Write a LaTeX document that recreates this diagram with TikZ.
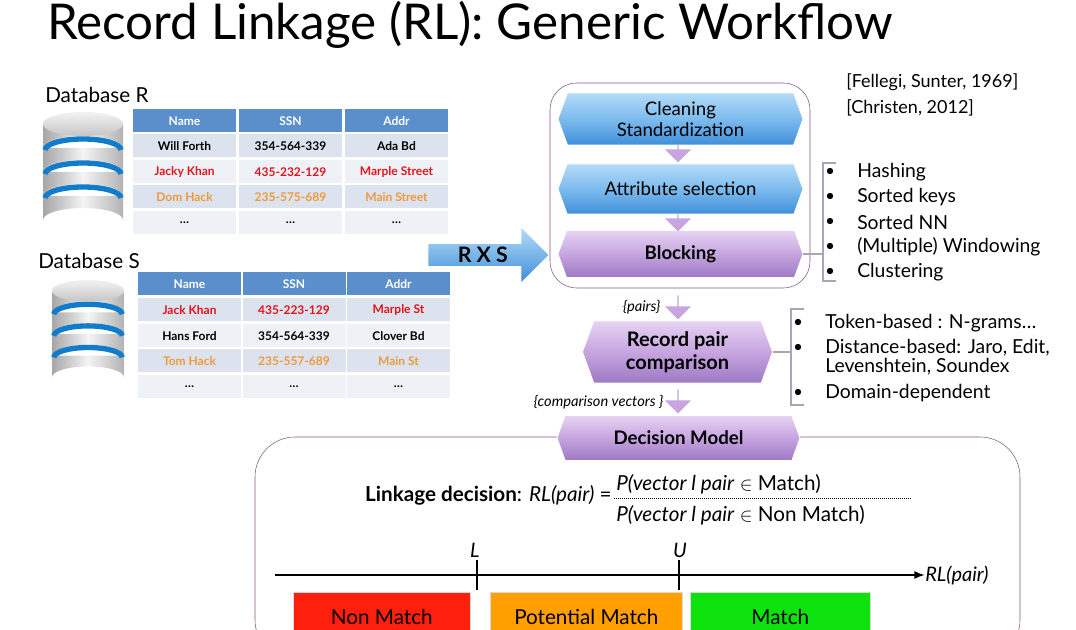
\documentclass[tikz,border=0pt]{standalone}
\usepackage{fontspec}
\setmainfont{Lato}
\usetikzlibrary{shapes.symbols,shapes.arrows,arrows.meta}
\definecolor{hdr}{HTML}{5B8FCB}
\definecolor{rowA}{HTML}{DCE3EE}
\definecolor{rowB}{HTML}{EEF1F6}
\definecolor{myred}{HTML}{E3141C}
\definecolor{myor}{HTML}{EE9A3A}
\definecolor{brk}{HTML}{A9A4B8}
\definecolor{blT}{HTML}{B4DBF7}
\definecolor{blM}{HTML}{7DBBEE}
\definecolor{blB}{HTML}{3F8FD9}
\definecolor{puT}{HTML}{E6D3F2}
\definecolor{puM}{HTML}{C6A5E0}
\definecolor{puB}{HTML}{9E78C4}
\newcommand\mydots{\ldots}
\begin{document}
\begin{tikzpicture}[x=0.75pt,y=-0.75pt,
 cell/.style={minimum width=103*0.75pt,minimum height=23*0.75pt,inner sep=0pt,font=\fontsize{9}{10}\selectfont\bfseries},
 hd/.style={cell,fill=hdr,text=white},
 hexb/.style={signal,signal to=east and west,signal pointer angle=140,inner sep=0pt,draw=white,line width=0.6pt,align=center},
 blue/.style={hexb,top color=blT,bottom color=blB,middle color=blM},
 purp/.style={hexb,top color=puT,bottom color=puB,middle color=puM},
 darr/.style={single arrow,fill=puM,minimum height=24*0.75pt,minimum width=26*0.75pt,single arrow head extend=4pt,shape border rotate=270,inner sep=0pt},
 li/.style={font=\fontsize{14.5}{16}\selectfont,anchor=west,inner sep=0pt},
 bul/.style={font=\fontsize{12}{12}\selectfont,inner sep=0pt},
 brkt/.style={draw=brk,line width=2.2pt}
]
\useasboundingbox (0,0) rectangle (1076,630);
\fill[white] (0,0) rectangle (1076,630);
\node[anchor=base west,inner sep=0pt,font=\fontsize{37}{40}\selectfont] (title) at (47,40) {Record Linkage (RL): Generic Workflow};

% database icons
\foreach \cx/\ty/\sc [count=\i] in {83/112/1, 88/280/0.9}{
 \begin{scope}[shift={(\cx,\ty)},scale=\sc]
  \foreach \k in {3,2,1,0}{
   \shade[left color=gray!70,right color=gray!60,middle color=gray!8] (-40,{12+\k*24}) -- (-40,{36+\k*24}) arc[start angle=180,end angle=360,x radius=40,y radius=12] -- (40,{12+\k*24}) -- cycle;
  }
  \foreach \k in {1,2,3}{
   \draw[line width=4pt,cyan!60!blue] (-38,{14+\k*24}) arc[start angle=180,end angle=360,x radius=38,y radius=11];
  }
  \shade[top color=gray!10,bottom color=gray!45] (0,12) ellipse[x radius=40,y radius=12];
 \end{scope}
}
\node[anchor=west,inner sep=0pt,font=\fontsize{15.5}{16}\selectfont] (dbr) at (45,95) {Database R};
\node[anchor=west,inner sep=0pt,font=\fontsize{15.5}{16}\selectfont] (dbs) at (38,261) {Database S};

% table R
\foreach \t/\c [count=\j] in {Name/0,SSN/1,Addr/2}{\node[hd] (rh\j) at ({184.5+\c*106},121) {\t};}
\foreach \row/\y/\fc/\col [count=\r] in {{Will Forth,354-564-339,Ada Bd}/146/rowA/black,{Jacky Khan,435-232-129,Marple Street}/172/rowB/myred,{Dom Hack,235-575-689,Main Street}/197/rowA/myor,{\mydots,\mydots,\mydots}/223/rowB/black}{
 \foreach \t [count=\c from 0] in \row {\node[cell,fill=\fc,text=\col] (r\r\c) at ({184.5+\c*106},\y) {\t};}
}
% table S
\foreach \t/\c [count=\j] in {Name/0,SSN/1,Addr/2}{\node[hd] (sh\j) at ({189.5+\c*104.5},284) {\t};}
\foreach \row/\y/\fc/\col [count=\r] in {{Jack Khan,435-223-129,Marple St}/310/rowA/myred,{Hans Ford,354-564-339,Clover Bd}/336/rowB/black,{Tom Hack,235-557-689,Main St}/361/rowA/myor,{\mydots,\mydots,\mydots}/387/rowB/black}{
 \foreach \t [count=\c from 0] in \row {\node[cell,fill=\fc,text=\col] (s\r\c) at ({189.5+\c*104.5},\y) {\t};}
}

% RxS arrow
\node[single arrow,single arrow head extend=12pt,minimum height=120*0.75pt,minimum width=38*0.75pt,inner sep=2pt,top color=blT,bottom color=blB,font=\fontsize{16}{16}\selectfont\bfseries,anchor=west] (rxs) at (428,255) {R X S\hspace{16pt}};

% container
\draw[gray!70!violet,rounded corners=20pt] (550,83) rectangle (810,288);
\node[blue,minimum width=245*0.75pt,minimum height=52*0.75pt,font=\fontsize{14}{15.5}\selectfont] (clean) at (680.5,119) {Cleaning\\Standardization};
\node[blue,minimum width=245*0.75pt,minimum height=50*0.75pt,font=\fontsize{14}{15}\selectfont] (attr) at (680.5,189) {Attribute selection};
\node[purp,minimum width=245*0.75pt,minimum height=47*0.75pt,font=\fontsize{14}{15}\selectfont\bfseries] (block) at (680.5,254) {Blocking};
\node[purp,minimum width=190*0.75pt,minimum height=62*0.75pt,font=\fontsize{15}{17}\selectfont\bfseries] (rpc) at (677.5,352) {Record pair\\comparison};
\node[darr,minimum height=18*0.75pt] (a1) at (678,153) {};
\node[darr,minimum height=18*0.75pt] (a2) at (678,222) {};
\node[darr] (a3) at (678,307) {};
\node[darr] (a4) at (678,401) {};
\node[font=\fontsize{11}{12}\selectfont\itshape,anchor=east] (pairs) at (665,307) {\{pairs\}};
\node[font=\fontsize{11}{12}\selectfont\itshape,anchor=east] (cv) at (668,402) {\{comparison vectors \}};

% refs
\node[anchor=west,inner sep=0pt,font=\fontsize{13.5}{15}\selectfont] (ref1) at (846,82) {[Fellegi, Sunter, 1969]};
\node[anchor=west,inner sep=0pt,font=\fontsize{13.5}{15}\selectfont] (ref2) at (846,108) {[Christen, 2012]};

% bracket blocking
\draw[brkt] (836,163) -- (823,163) -- (823,281) -- (836,281);
\draw[brk,line width=1.5pt] (block.east) -- (823,254);
\foreach \t/\y in {Hashing/172,Sorted keys/197,Sorted NN/222,(Multiple) Windowing/247,Clustering/272}{
 \node[bul] at (830,\y) {$\bullet$};
 \node[li] at (857,\y) {\t};
}
% bracket comparison
\draw[brkt] (804,309) -- (791,309) -- (791,405) -- (804,405);
\draw[brk,line width=1.5pt] (rpc.east) -- (791,352);
\node[bul] at (798,323) {$\bullet$}; \node[li] at (825,323) {Token-based : N-grams…};
\node[bul] at (798,348) {$\bullet$}; \node[li,align=left,font=\fontsize{14.5}{14}\selectfont] (dist) at (825,357) {Distance-based: Jaro, Edit,\\Levenshtein, Soundex};
\node[bul] at (798,393) {$\bullet$}; \node[li] at (825,393) {Domain-dependent};

% bottom box
\begin{scope}
\clip (0,0) rectangle (1076,630);
\draw[gray!70!violet,rounded corners=30pt] (255,437) -- (255,660) -- (1020,660) -- (1020,437) -- cycle;
\end{scope}
\node[purp,minimum width=243*0.75pt,minimum height=45*0.75pt,font=\fontsize{14}{15}\selectfont\bfseries] (dm) at (678.5,438) {Decision Model};

\node[anchor=east,inner sep=0pt,font=\fontsize{15.5}{16}\selectfont] (ld) at (612,495) {\textbf{Linkage decision}: \textit{RL(pair)} =};
\node[anchor=west,inner sep=0pt,font=\fontsize{15.5}{16}\selectfont] (num) at (616,484) {\textit{P(vector l pair} $\in$ Match)};
\node[anchor=west,inner sep=0pt,font=\fontsize{15.5}{16}\selectfont] (den) at (616,515) {\textit{P(vector l pair} $\in$ Non Match)};
\draw[dash pattern=on 1pt off 0.5pt,line width=0.7pt] (614,498) -- (912,498);

\coordinate (ax0) at (275,575);
\node[anchor=west,inner sep=0pt,font=\fontsize{15}{16}\selectfont\itshape] (rlp) at (925,575) {RL(pair)};
\draw[line width=1.3pt,-{Latex[length=8pt,width=6pt]}] (ax0) -- (rlp.west);
\draw[line width=1.3pt] (477,560) -- (477,590);
\draw[line width=1.3pt] (679,560) -- (679,590);
\node[font=\fontsize{15}{16}\selectfont\itshape] (L) at (475,550) {L};
\node[font=\fontsize{15}{16}\selectfont\itshape] (U) at (680,550) {U};
\begin{scope}
\clip (0,0) rectangle (1076,630);
\node[fill=red!85!orange!95,draw=gray!30,anchor=north west,minimum width=177*0.75pt,minimum height=50*0.75pt,font=\fontsize{15.5}{16}\selectfont] (nm) at (293,592) {Non Match};
\node[fill=orange!75!yellow,draw=gray!30,anchor=north west,minimum width=192*0.75pt,minimum height=50*0.75pt,font=\fontsize{15.5}{16}\selectfont] (pm) at (490,592) {Potential Match};
\node[fill=green!88!black!95,draw=gray!30,anchor=north west,minimum width=180*0.75pt,minimum height=50*0.75pt,font=\fontsize{15.5}{16}\selectfont] (ma) at (690,592) {Match};
\end{scope}
\end{tikzpicture}
\end{document}
